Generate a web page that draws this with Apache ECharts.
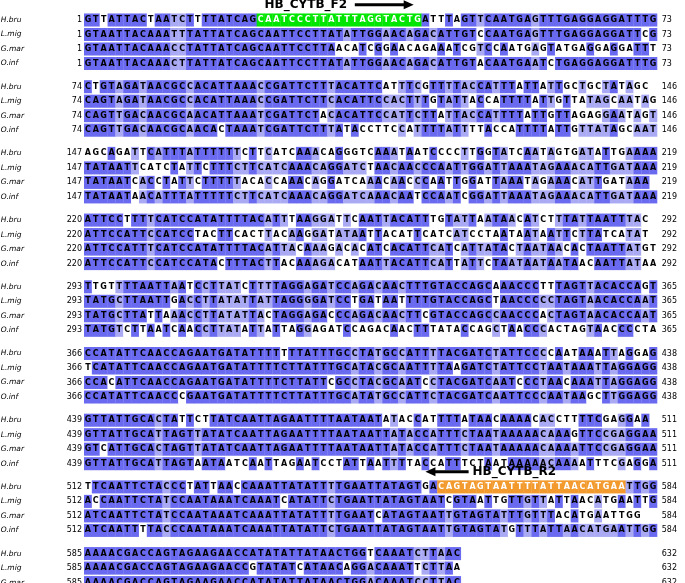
<!DOCTYPE html><html><head><meta charset="utf-8"><script src="https://cdn.jsdelivr.net/npm/echarts@6/dist/echarts.min.js"></script>
<style>html,body{margin:0;background:#fff}#c{width:685px;height:583px}</style></head><body><div id="c"></div><script>
const names=['H.bru','L.mig','G.mar','O.inf'];
const blockStarts=[1,74,147,220,293,366,439,512,585];
const blockEnds=[73,146,219,292,365,438,511,584,632];
const seqs=[
['GTTATTACTAATCTTTTATCAGCAATCCCTTATTTAGGTACTGATTTAGTTCAATGAGTTTGAGGAGGATTTG','GTAATTACAAATTTATTATCAGCAATTCCTTATATTGGAACAGACATTGTCCAATGAGTTTGAGGAGGATTCG','GTAATTACAAACCTATTATCAGCAATTCCTTAACATCGGAACAGAAATCGTCCAATGAGTATGAGGAGGATTTG','GTAATTACAAACTTATTATCAGCAATTCCTTATATTGGAACAGACATTGTACAATGAATCTGAGGAGGATTTG'],
['CTGTAGATAACGCCACATTAAACCGATTCTTTACATTCATTTCGTTTTACCATTTATTATTGCTGCTATAGC','CAGTAGATAACGCCACATTAAACCGATTCTTCACATTCCACTTTGTATTACCATTTTATTGTTATAGCAATAGT','CAGTTGACAACGCAACATTAAATCGATTCTACACATTCCATTCTTATTACCATTTTATTGTTAGAGGAATAGT','CAGTTGACAACGCAACACTAAATCGATTCTTTATACCTTCCATTTTATTTTACCATTTTATTGTTATAGCAATAGT'],
['AGCAGATTCATTTATTTTTTCTTCATCAAACAGGGTCAAATAATCCCCTTGGTATCAATAGTGATATTGAAAAA','TATAATTCATCTATTCTTTCTTCATCAAACAGGATCTAACAACCCAATTGGATTAAATAGAAACATTGATAAA','TATAATCACCTATTCTTTTTACACCAAACAGGATCAAACAACCCAATTGGATTAAATAGAAACATTGATAAA','TATAATAACATTTATTTTTCTTCATCAAACAGGATCAAACAATCCAATCGGATTAAATAGAAACATTGATAAA'],
['ATTCCTTTTCATCCATATTTTACATTTAAGGATTCAATTACATTTGTATTAATAACATCTTTATTAATTTAC','ATTCCATTCCATCCTACTTCACTTACAAGGATATAATTACATTCATCATCCTAATAATAATTCTTATCATAT','ATTCCATTTCATCCATATTTTACATTACAAAGACACATCACATTCATCATTATACTAATAACACTAATTATGT','ATTCCATTCCATCCATACTTTACTTACAAAGACATAATTACATTCATTATTCTAATAATAATAACAATTATAA'],
['TTGTTTTAATTAATCCTTATCTTTTAGGAGATCCAGACAACTTTGTACCAGCAAACCCTTTAGTTACACCAGT','TATGCTTAATTGACCTTATATTATTAGGGGATCCTGATAATTTTGTACCAGCTAACCCCCTAGTAACACCAAT','TATGCTTATTAAACCTTATATTACTAGGAGACCCAGACAACTTCGTACCAGCCAACCCACTAGTAACACCAAT','TATGTCTTAATCAACCTTATATTATTAGGAGATCCAGACAACTTTATACCAGCTAACCCACTAGTAACCCCTAT'],
['CCATATTCAACCAGAATGATATTTTTTTATTTGCCTATGCCATTTTACGATCTATTCCCCAATAAATTAGGAGGA','TCATATTCAACCAGAATGATATTTTCTTATTTGCATACGCAATTTTAAGATCTATTCCTAATAAATTAGGAGGA','CCACATTCAACCAGAATGATATTTTCTTATTCGCCTACGCAATCCTACGATCAATCCCTAACAAATTAGGAGGA','CCATATTCAACCCGAATGATATTTTCTTATTTGCATATGCCATTCTACGATCAATTCCCAATAAGCTTGGAGGA'],
['GTTATTGCACTATTCTTATCAATTAGAATTTTAATAATATACCATTTTATAACAAAACACCTTTTCGAGGAA','GTTATTGCATTAGTTATATCAATTAGAATTTTAATAATTATACCATTTCTAATAAAAACAAAGTTCCGAGGAA','GTCATTGCACTAGTTATATCAATTAGAATTTTAATAATTATACCATTTCTAATAAAAACAAAATTCCGAGGAA','GTTATTGCATTAGTAATAATCAATTAGAATCCTATTAATTTTACCATTTCTAATAAAAACAAAATTTCGAGGAA'],
['TTCAATTCTACCCTATTAACCAAATTATATTTTGAATTATAGTGACAGTAGTAATTTTATTAACATGAATTGG','ACCAATTCTATCCAATAAATCAAATCATATTCTGAATTATAGTAATCGTAATTGTTGTTATTAACATGAATTGG','ATCAATTCTATCCAATAAATCAAATTATATTTTGAATCATAGTAATTGTAGTATTTGTTTACATGAATTGG','ATCAATTTTACCCAATAAATCAAATTATATTCTGAATTATAGTAATTGTAGTATGTTTATTAACATGAATTGG'],
['AAAACGACCAGTAGAAGAACCATATATTATAACTGGTCAAATCTTAAC','AAAACGACCAGTAGAAGAACCGTATATCATAACAGGACAAATTCTTAAC','AAAACGACCAGTAGAAGAACCATATATTATAACTGGACAAATCCTTAC','AAAACGACCAGTAGAAGAACCATATATTATAACTGGGCAAACATTAAC']
];
// primers: [block, row, startCol, length, label, direction, colour]
const primers=[[0,0,22,21,'HB_CYTB_F2',1,'#00e600'],[7,0,45,24,'HB_CYTB_R2',-1,'#f39a2e']];
const BP=4.6;
const cells=[],labels=[];
seqs.forEach((blk,b)=>{
  const len=blockEnds[b]-blockStarts[b]+1;
  const s=blk.map(x=>x.slice(0,len));
  for(let c=0;c<len;c++){
    s.forEach((q,r)=>{
      const ch=q[c]; if(!ch) return;
      let n=0; s.forEach(o=>{if(o[c]===ch)n++;});
      let col=n>=3?'#6a6af0':(n===2?'#a9a9f4':'#ffffff');
      let tc='#000';
      primers.forEach(p=>{if(p[0]===b&&p[1]===r&&c>=p[2]&&c<p[2]+p[3]){col=p[6];tc='#fff';}});
      cells.push([c,b*BP+r,ch,col,tc]);
    });
  }
  names.forEach((nm,r)=>{
    labels.push([-10.6,b*BP+r,nm,'left',7.5,'italic']);
    labels.push([-0.25,b*BP+r,String(blockStarts[b]),'right',8,'normal']);
    labels.push([73.6,b*BP+r,String(blockEnds[b]),'left',8,'normal']);
  });
});
const chart=echarts.init(document.getElementById('c'));
chart.setOption({animation:false,
grid:{left:84,width:573,top:0,height:583},
xAxis:{type:'value',min:0,max:73,show:false},
yAxis:{type:'value',min:-20/14.5,max:563/14.5,inverse:true,show:false},
series:[
{type:'custom',clip:false,data:cells,renderItem:function(p,api){
  const a=api.coord([api.value(0),api.value(1)-0.45]);
  const b2=api.coord([api.value(0)+1,api.value(1)+0.45]);
  const d=cells[p.dataIndex];
  return {type:'group',children:[
   {type:'rect',shape:{x:a[0],y:a[1],width:b2[0]-a[0]+0.3,height:b2[1]-a[1]},style:{fill:d[3]}},
   {type:'text',style:{text:d[2],x:(a[0]+b2[0])/2,y:(a[1]+b2[1])/2,align:'center',verticalAlign:'middle',fill:d[4],font:'bold 8px DejaVu Sans'}}]};
}},
{type:'custom',clip:false,data:labels,renderItem:function(p,api){
  const d=labels[p.dataIndex];
  const pt=api.coord([d[0],d[1]]);
  return {type:'text',style:{text:d[2],x:pt[0],y:pt[1],align:d[3],verticalAlign:'middle',fill:'#000',font:d[5]+' '+d[4]+'px DejaVu Sans'}};
}},
{type:'custom',clip:false,data:primers,renderItem:function(p,api){
  const d=primers[p.dataIndex];
  const dir=d[5];
  const y=d[0]*BP+d[1]-1.05;
  const x0=d[2];
  const t=api.coord([dir>0?x0+1:x0+4.5,y]);
  const aS=api.coord([dir>0?x0+12.5:x0+4,y]);
  const aE=api.coord([dir>0?x0+20:x0-1.5,y]);
  const pts=[[aE[0],aE[1]],[aE[0]-dir*10,aE[1]-4.5],[aE[0]-dir*10,aE[1]+4.5]];
  return {type:'group',children:[
   {type:'text',style:{text:d[4],x:t[0],y:t[1],align:'left',verticalAlign:'middle',font:'bold 12px DejaVu Sans',fill:'#000'}},
   {type:'line',shape:{x1:aS[0],y1:aS[1],x2:aE[0]-dir*8,y2:aE[1]},style:{stroke:'#000',lineWidth:3}},
   {type:'polygon',shape:{points:pts},style:{fill:'#000'}}]};
}}
]});
</script></body></html>
